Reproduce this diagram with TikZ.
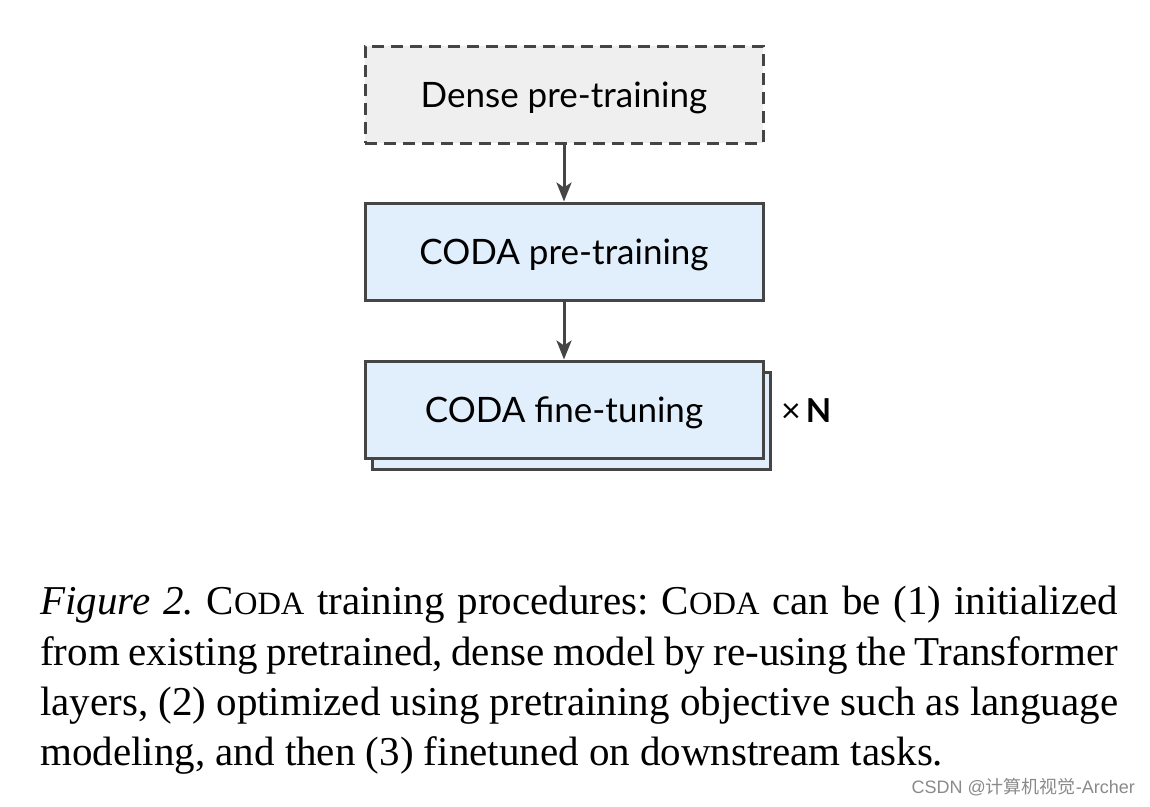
\documentclass[tikz,border=0pt]{standalone}
\usepackage{fontspec}
\setmainfont{Liberation Serif}
\newfontfamily\boxfont{Lato}
\newfontfamily\cjk{Noto Sans CJK SC}
\newfontfamily\wmfont{Liberation Sans}
\usetikzlibrary{arrows.meta}
\definecolor{edge}{HTML}{454545}
\definecolor{densefill}{HTML}{EFEFEF}
\definecolor{codafill}{HTML}{E1EEFB}
\definecolor{wmgray}{HTML}{8A8A8A}
\tikzset{
  stagebox/.style={draw=edge, line width=3pt, minimum width=398pt, minimum height=97pt,
    inner sep=0pt, text height=25pt, text depth=0pt, font=\boxfont\fontsize{35}{38}\selectfont, text=black},
  flow/.style={draw=edge, line width=3pt, -{Stealth[length=19pt,width=15pt,inset=5pt]}},
  capline/.style={anchor=base west, inner sep=0pt, font=\fontsize{41}{50}\selectfont}
}
\newcommand{\codasc}{C{\fontsize{32.5}{32.5}\selectfont ODA}}
\begin{document}
\frenchspacing
\begin{tikzpicture}[x=1pt,y=-1pt]
\useasboundingbox (0,0) rectangle (1150,806);
\node[stagebox, fill=densefill, dash pattern=on 12pt off 7pt] (dense) at (564,94.5) {Dense pre-training};
\node[stagebox, fill=codafill] (pre) at (564,251.5) {CODA pre-training};
\node[stagebox, fill=codafill] (ftback) at (571,421) {};
\node[stagebox, fill=codafill] (ft) at (564,409.5) {CODA fine-tuning};
\node[anchor=base west, inner sep=0pt, font=\boxfont] (times) at (781,422) {\fontsize{34}{36}\selectfont ×\hspace{5pt}{\fontsize{33}{36}\selectfont\bfseries N}};
\draw[flow] (dense.south) -- (pre.north);
\draw[flow] (pre.south) -- (ft.north);
\node[capline] (c1) at (40,614) {\hbox to 1078pt{\textit{Figure 2.} \codasc\ training procedures: \codasc\ can be (1) initialized}};
\node[capline] (c2) at (40,665) {\hbox to 1078pt{from existing pretrained, dense model by re-using the Transformer}};
\node[capline] (c3) at (40,715) {\hbox to 1078pt{layers, (2) optimized using pretraining objective such as language}};
\node[capline] (c4) at (40,765) {modeling, and then (3) finetuned on downstream tasks.};
\node[anchor=base east, inner sep=0pt, text=wmgray, font=\wmfont\fontsize{18}{20}\selectfont] (wm) at (1135,793) {CSDN @{\cjk 计算机视觉}-Archer};
\end{tikzpicture}
\end{document}
